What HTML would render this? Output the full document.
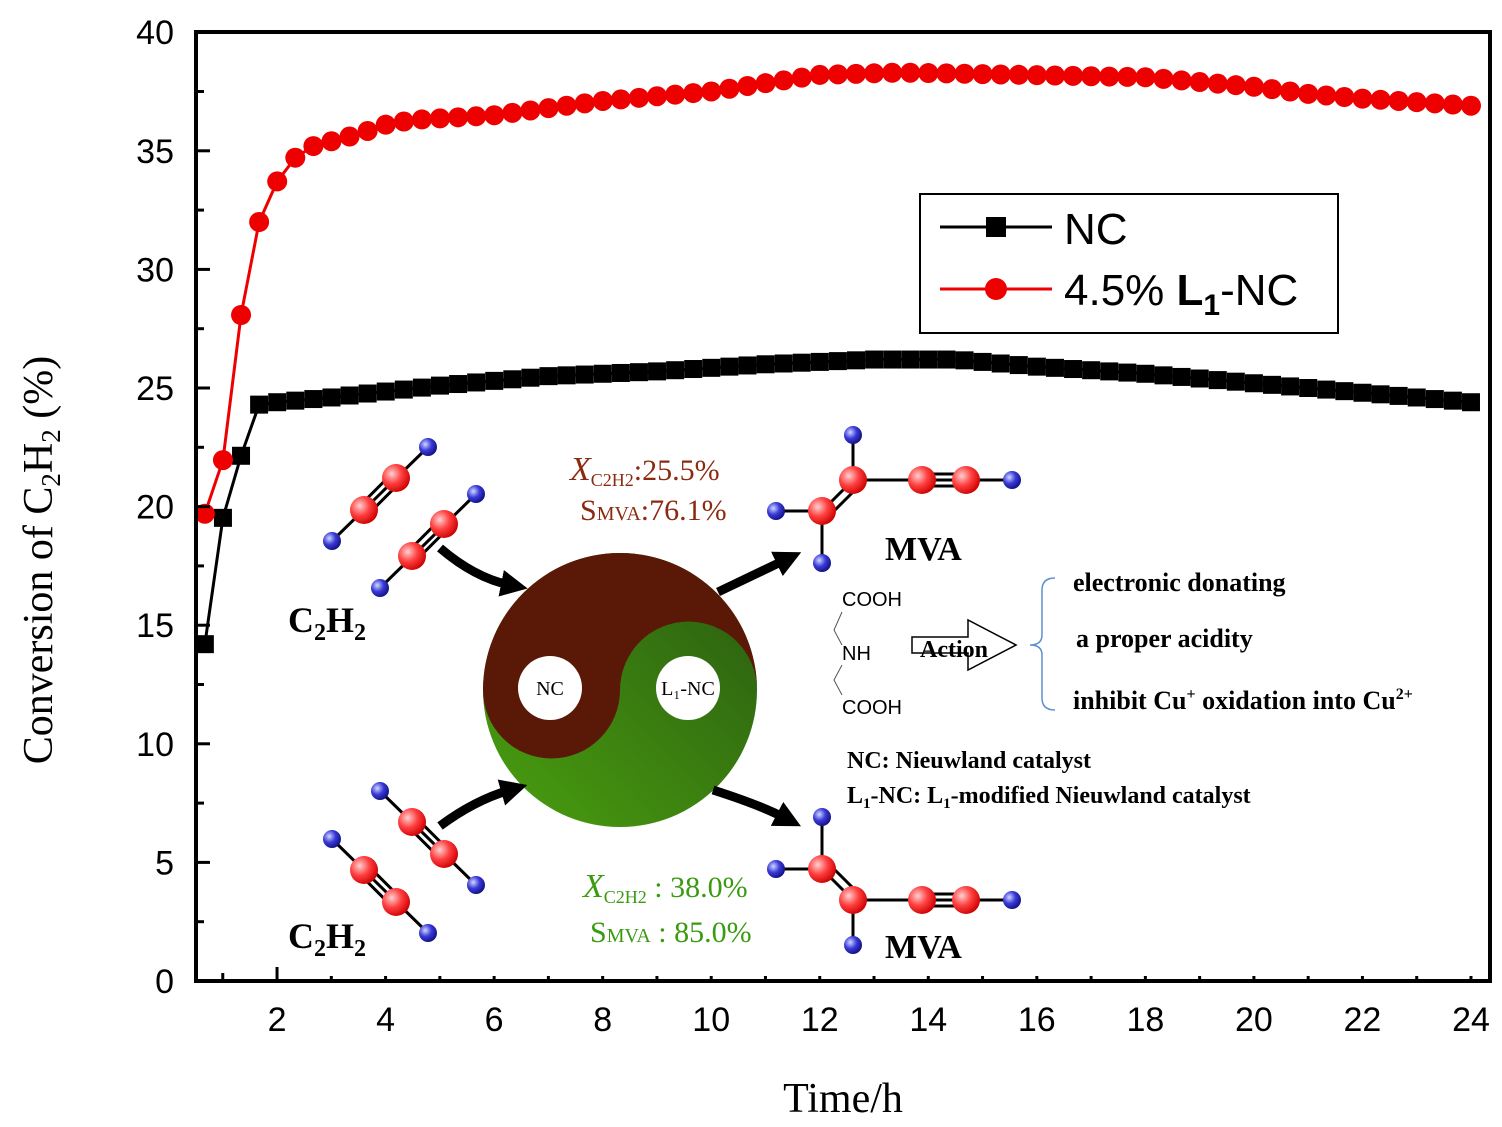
<!DOCTYPE html>
<html><head><meta charset="utf-8"><style>
html,body{margin:0;padding:0;background:#fff;width:1502px;height:1127px;overflow:hidden}
svg{display:block}
.s{font-family:"Liberation Serif",serif}
</style></head><body>
<svg id="svg" width="1502" height="1127" xmlns="http://www.w3.org/2000/svg">
<defs>
<radialGradient id="rb" cx="35%" cy="35%" r="70%"><stop offset="0" stop-color="#ffd0d0"/><stop offset="0.5" stop-color="#ff4040"/><stop offset="1" stop-color="#c00"/></radialGradient>
<radialGradient id="bb" cx="35%" cy="35%" r="70%"><stop offset="0" stop-color="#d0d8ff"/><stop offset="0.5" stop-color="#3a3ad8"/><stop offset="1" stop-color="#101080"/></radialGradient>
<linearGradient id="gg" x1="0" y1="1" x2="1" y2="0"><stop offset="0" stop-color="#4aa010"/><stop offset="1" stop-color="#2a5a10"/></linearGradient>
<marker id="ah" markerWidth="3" markerHeight="3" refX="1" refY="1.5" orient="auto"><path d="M0,0 L3,1.5 L0,3 Z" fill="#000"/></marker>
</defs>
<g id="plot"></g>
<rect x="196" y="32" width="1294" height="949" fill="none" stroke="#000" stroke-width="4"/>
<g id="ticks"></g>
<text x="843" y="1112" class="s" font-size="42" text-anchor="middle">Time/h</text>
<text transform="translate(52,560) rotate(-90)" class="s" font-size="42" text-anchor="middle">Conversion of C<tspan font-size="27" dy="8">2</tspan><tspan dy="-8">H</tspan><tspan font-size="27" dy="8">2</tspan><tspan dy="-8"> (%)</tspan></text>
<rect x="920" y="194" width="418" height="139" fill="#fff" stroke="#000" stroke-width="2"/>
<line x1="940" y1="227" x2="1052" y2="227" stroke="#000" stroke-width="3"/>
<rect x="986" y="217" width="20" height="20" fill="#000"/>
<text x="1064" y="244" font-family="Liberation Sans, sans-serif" font-size="44">NC</text>
<line x1="940" y1="289" x2="1052" y2="289" stroke="#e00" stroke-width="3"/>
<circle cx="996" cy="289" r="11" fill="#e00"/>
<text x="1064" y="305" font-family="Liberation Sans, sans-serif" font-size="44">4.5% <tspan font-weight="bold">L</tspan><tspan font-weight="bold" font-size="30" dy="10">1</tspan><tspan dy="-10">-NC</tspan></text>
<g id="inset"></g>
</svg>
<script>
const X=h=>168.5+54.27*h, Y=v=>981-23.72*v;
const ns="http://www.w3.org/2000/svg";
function el(p,t,a,txt){const e=document.createElementNS(ns,t);for(const k in a)e.setAttribute(k,a[k]);if(txt!=null)e.textContent=txt;p.appendChild(e);return e;}
const SANS='Liberation Sans, sans-serif';
const tk=document.getElementById('ticks');
for(let v=0;v<=40;v+=2.5){const y=Y(v);el(tk,'line',{x1:196,y1:y,x2:196+(v%5==0?14:8),y2:y,stroke:'#000','stroke-width':3});
 if(v%5==0)el(tk,'text',{x:174,y:y+12,'font-family':SANS,'font-size':34,'text-anchor':'end'},v);}
for(let h=1;h<=24;h++){const x=X(h);el(tk,'line',{x1:x,y1:981,x2:x,y2:981-(h%2==0?14:8),stroke:'#000','stroke-width':3});
 if(h%2==0)el(tk,'text',{x:x,y:1031,'font-family':SANS,'font-size':34,'text-anchor':'middle'},h);}
function interp(k,h){for(let i=0;i<k.length-1;i++)if(h<=k[i+1][0]){const t=(h-k[i][0])/(k[i+1][0]-k[i][0]);return k[i][1]+t*(k[i+1][1]-k[i][1]);}return k[k.length-1][1];}
const red=[[0.67,19.7],[1,21.9],[1.33,28],[1.67,32],[2,33.7],[2.33,34.7],[2.67,35.2],[3,35.4],[3.5,35.7],[4,36.1],[4.5,36.3],[6,36.5],[8,37.1],[10,37.5],[12,38.2],[13.5,38.3],[18,38.1],[19,37.9],[20,37.7],[21,37.4],[22,37.2],[24,36.9]];
const blk=[[0.67,14.2],[1,19.5],[1.33,22.1],[1.67,24.3],[2,24.4],[3,24.6],[5,25.1],[7,25.5],[9,25.7],[11,26],[13,26.2],[14.5,26.2],[16,25.9],[18,25.6],[20,25.2],[22,24.8],[24,24.4]];
const p=document.getElementById('plot');
function series(k,c,sq){let pts=[];for(let i=0;i<=70;i++){const h=0.67+i*(23.33/70);pts.push([X(h),Y(interp(k,h))]);}
 el(p,'polyline',{points:pts.map(q=>q.join(',')).join(' '),fill:'none',stroke:c,'stroke-width':3});
 pts.forEach(q=>{if(sq)el(p,'rect',{x:q[0]-9,y:q[1]-9,width:18,height:18,fill:c});else el(p,'circle',{cx:q[0],cy:q[1],r:10,fill:c});});}
series(blk,'#000',true);series(red,'#e00',false);
const g=document.getElementById('inset');
el(g,'rect',{x:300,y:418,width:1186,height:558,fill:'#fff'});
const cx=620,cy=690,R=137;
el(g,'circle',{cx:cx,cy:cy,r:R,fill:'url(#gg)'});
el(g,'path',{d:`M${cx-R},${cy} A${R},${R} 0 0 1 ${cx+R},${cy} A${R/2},${R/2} 0 0 0 ${cx},${cy} A${R/2},${R/2} 0 0 1 ${cx-R},${cy} Z`,fill:'#5a1806'});
el(g,'circle',{cx:550,cy:688,r:32,fill:'#fff'});el(g,'circle',{cx:688,cy:688,r:32,fill:'#fff'});
el(g,'text',{x:550,y:695,class:'s','font-size':20,'text-anchor':'middle'},'NC');
el(g,'text',{x:688,y:695,class:'s','font-size':20,'text-anchor':'middle'},'L₁-NC');
function atom(x,y,r,b){el(g,'circle',{cx:x,cy:y,r:r,fill:b?'url(#bb)':'url(#rb)'});}
function bond(a,b){el(g,'line',{x1:a[0],y1:a[1],x2:b[0],y2:b[1],stroke:'#000','stroke-width':3});}
function c2h2(h1,c1,c2,h2){bond(h1,h2);
 const dx=c2[0]-c1[0],dy=c2[1]-c1[1],L=Math.hypot(dx,dy),nx=-dy/L*6,ny=dx/L*6;
 bond([c1[0]+nx,c1[1]+ny],[c2[0]+nx,c2[1]+ny]);bond([c1[0]-nx,c1[1]-ny],[c2[0]-nx,c2[1]-ny]);
 atom(h1[0],h1[1],9,1);atom(h2[0],h2[1],9,1);atom(c1[0],c1[1],14);atom(c2[0],c2[1],14);}
c2h2([332,541],[364,510],[396,478],[428,447]);
c2h2([380,588],[412,556],[444,524],[476,494]);
c2h2([380,791],[412,822],[444,854],[476,885]);
c2h2([332,839],[364,870],[396,902],[428,933]);
// MVA: f flips vertically around chain line
function mva(cy0,f){const y=d=>cy0+f*d;
 bond([776,y(31)],[822,y(31)]);bond([822,y(31)],[822,y(83)]);bond([853,y(-45)],[853,y(0)]);
 bond([822,y(31)],[853,y(0)]);bond([828,y(37)],[859,y(6)]);bond([853,y(0)],[1012,y(0)]);
 bond([922,y(-6)],[966,y(-6)]);bond([922,y(6)],[966,y(6)]);
 atom(776,y(31),9,1);atom(822,y(83),9,1);atom(853,y(-45),9,1);atom(1012,y(0),9,1);
 atom(822,y(31),14);atom(853,y(0),14);atom(922,y(0),14);atom(966,y(0),14);}
mva(480,1);mva(900,-1);
function arr(d){el(g,'path',{d:d,fill:'none',stroke:'#000','stroke-width':9,'marker-end':'url(#ah)'});}
arr('M440,548 Q475,578 510,585');arr('M718,592 Q760,572 785,560');
arr('M440,826 Q475,800 510,790');arr('M713,790 Q760,805 785,818');
function T(x,y,s,sz,fill,bold,anchor){const e=el(g,'text',{x:x,y:y,class:'s','font-size':sz,fill:fill||'#000','font-weight':bold?'bold':'normal','text-anchor':anchor||'start'});e.innerHTML=s;return e;}
T(288,632,'C<tspan font-size="24" dy="8">2</tspan><tspan dy="-8">H</tspan><tspan font-size="24" dy="8">2</tspan>',36,'#000',1);
T(288,948,'C<tspan font-size="24" dy="8">2</tspan><tspan dy="-8">H</tspan><tspan font-size="24" dy="8">2</tspan>',36,'#000',1);
T(885,560,'MVA',34,'#000',1);T(885,958,'MVA',34,'#000',1);
T(570,480,'<tspan font-style="italic" font-size="34">X</tspan><tspan font-size="18" dy="6">C2H2</tspan><tspan dy="-6">:25.5%</tspan>',30,'#8b2a10');
T(580,520,'S<tspan font-size="20">MVA</tspan>:76.1%',30,'#8b2a10');
T(583,897,'<tspan font-style="italic" font-size="34">X</tspan><tspan font-size="18" dy="6">C2H2</tspan><tspan dy="-6"> : 38.0%</tspan>',30,'#3a9a10');
T(590,942,'S<tspan font-size="20">MVA</tspan> : 85.0%',30,'#3a9a10');
for(const [y,s] of [[606,'COOH'],[660,'NH'],[714,'COOH']])el(g,'text',{x:842,y:y,'font-family':SANS,'font-size':20},s);
el(g,'path',{d:'M842,612 L834,630 L842,645 M842,665 L834,680 L842,695',fill:'none',stroke:'#555','stroke-width':1});
el(g,'path',{d:'M912,637 L968,637 L968,620 L1016,645 L968,670 L968,653 L912,653 Z',fill:'#fff',stroke:'#000','stroke-width':1.5});
T(920,657,'Action',24,'#000',1);
el(g,'path',{d:'M1055,578 Q1042,578 1042,590 L1042,635 Q1042,645 1030,645 Q1042,645 1042,655 L1042,698 Q1042,710 1055,710',fill:'none',stroke:'#5b8fd0','stroke-width':1.5});
T(1073,591,'electronic donating',26,'#000',1);
T(1076,647,'a proper acidity',26,'#000',1);
T(1073,709,'inhibit Cu<tspan font-size="16" dy="-10">+</tspan><tspan dy="10"> oxidation into Cu</tspan><tspan font-size="16" dy="-10">2+</tspan>',26,'#000',1);
T(847,768,'NC: Nieuwland catalyst',24,'#000',1);
T(847,803,'L<tspan font-size="15" dy="5">1</tspan><tspan dy="-5">-NC: L</tspan><tspan font-size="15" dy="5">1</tspan><tspan dy="-5">-modified Nieuwland catalyst</tspan>',24,'#000',1);
el(g,'line',{x1:1490,y1:30,x2:1490,y2:983,stroke:'#000','stroke-width':4});
</script>
</body></html>
